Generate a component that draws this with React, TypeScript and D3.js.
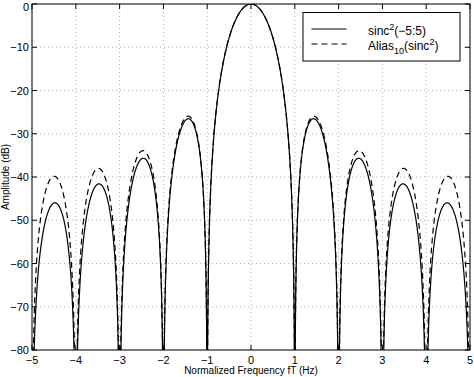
import React from "react";
import * as d3 from "d3";

const xDomain = [-5, 5];
const yDomain = [-80, 0];
const xTicks = [-5, -4, -3, -2, -1, 0, 1, 2, 3, 4, 5];
const yTicks = [-80, -70, -60, -50, -40, -30, -20, -10, 0];
const aliasPeriod = [10];
const aliasTerms = [40];
const sampleStep = [0.001];
const legendLabels = ["sinc", "Alias"];

const W = 474, H = 377;
const m = { left: 32, right: 4, top: 4, bottom: 27 };

function sinc(x: number) {
  if (x === 0) return 1;
  const p = Math.PI * x;
  return Math.sin(p) / p;
}

export default function App() {
  const x = d3.scaleLinear().domain(xDomain).range([m.left, W - m.right]);
  const y = d3.scaleLinear().domain(yDomain).range([H - m.bottom, m.top]);
  const fs = d3.range(xDomain[0], xDomain[1] + sampleStep[0] / 2, sampleStep[0]);
  const floor = -200;
  const db = (v: number) => Math.max(floor, 20 * Math.log10(Math.max(v, 1e-30)));
  const solid = fs.map((f) => [f, db(sinc(f) ** 2)] as [number, number]);
  const alias = fs.map((f) => {
    let s = 0;
    for (let k = -aliasTerms[0]; k <= aliasTerms[0]; k++) s += sinc(f - k * aliasPeriod[0]) ** 2;
    return [f, db(s)] as [number, number];
  });
  const line = d3.line<[number, number]>().x((d) => x(d[0])).y((d) => y(Math.max(d[1], -120)));
  const x0 = m.left, x1 = W - m.right, y0 = m.top, y1 = H - m.bottom;
  const font = "Liberation Sans, Arial, Helvetica, sans-serif";
  const tl = 5;
  return (
    <svg width={W} height={H} style={{ position: "absolute", left: 0, top: 0 }} fontFamily={font}>
      <rect x={0} y={0} width={W} height={H} fill="#fff" />
      <defs>
        <clipPath id="pc"><rect x={x0} y={y0} width={x1 - x0} height={y1 - y0} /></clipPath>
      </defs>
      {xTicks.map((t) => (
        <line key={"gx" + t} x1={x(t)} x2={x(t)} y1={y0} y2={y1} stroke="#999" strokeWidth={0.8} strokeDasharray="1,3" />
      ))}
      {yTicks.map((t) => (
        <line key={"gy" + t} x1={x0} x2={x1} y1={y(t)} y2={y(t)} stroke="#999" strokeWidth={0.8} strokeDasharray="1,3" />
      ))}
      <g clipPath="url(#pc)">
        <path d={line(solid) || ""} fill="none" stroke="#000" strokeWidth={1.2} />
        <path d={line(alias) || ""} fill="none" stroke="#000" strokeWidth={1.2} strokeDasharray="6,4" />
      </g>
      <rect x={x0} y={y0} width={x1 - x0} height={y1 - y0} fill="none" stroke="#000" strokeWidth={1} />
      {xTicks.map((t) => (
        <g key={"tx" + t}>
          <line x1={x(t)} x2={x(t)} y1={y1} y2={y1 - tl} stroke="#000" />
          <line x1={x(t)} x2={x(t)} y1={y0} y2={y0 + tl} stroke="#000" />
          <text x={x(t)} y={y1 + 14} fontSize={11} textAnchor="middle">{t < 0 ? "\u2212" + Math.abs(t) : t}</text>
        </g>
      ))}
      {yTicks.map((t) => (
        <g key={"ty" + t}>
          <line x1={x0} x2={x0 + tl} y1={y(t)} y2={y(t)} stroke="#000" />
          <line x1={x1} x2={x1 - tl} y1={y(t)} y2={y(t)} stroke="#000" />
          <text x={x0 - 3} y={Math.max(y(t) + 4, 11)} fontSize={11} textAnchor="end">{t < 0 ? "\u2212" + Math.abs(t) : t}</text>
        </g>
      ))}
      <text x={(x0 + x1) / 2} y={H - 3} fontSize={10} textAnchor="middle">Normalized Frequency fT (Hz)</text>
      <text transform={`translate(9,${(y0 + y1) / 2}) rotate(-90)`} fontSize={10} textAnchor="middle">Amplitude (dB)</text>
      <g>
        <rect x={303} y={12.5} width={157} height={48.5} fill="#fff" stroke="#000" strokeWidth={1} />
        <line x1={311.5} x2={346.5} y1={29} y2={29} stroke="#000" strokeWidth={1.2} />
        <line x1={311.5} x2={346.5} y1={44} y2={44} stroke="#000" strokeWidth={1.2} strokeDasharray="6,4" />
        <text x={368} y={35} fontSize={12}>
          {legendLabels[0]}<tspan dy={-5} fontSize={9}>2</tspan><tspan dy={5}>(−5:5)</tspan>
        </text>
        <text x={368} y={50} fontSize={12}>
          {legendLabels[1]}<tspan dy={4} fontSize={9}>10</tspan><tspan dy={-4}>(sinc</tspan><tspan dy={-5} fontSize={9}>2</tspan><tspan dy={5}>)</tspan>
        </text>
      </g>
    </svg>
  );
}
